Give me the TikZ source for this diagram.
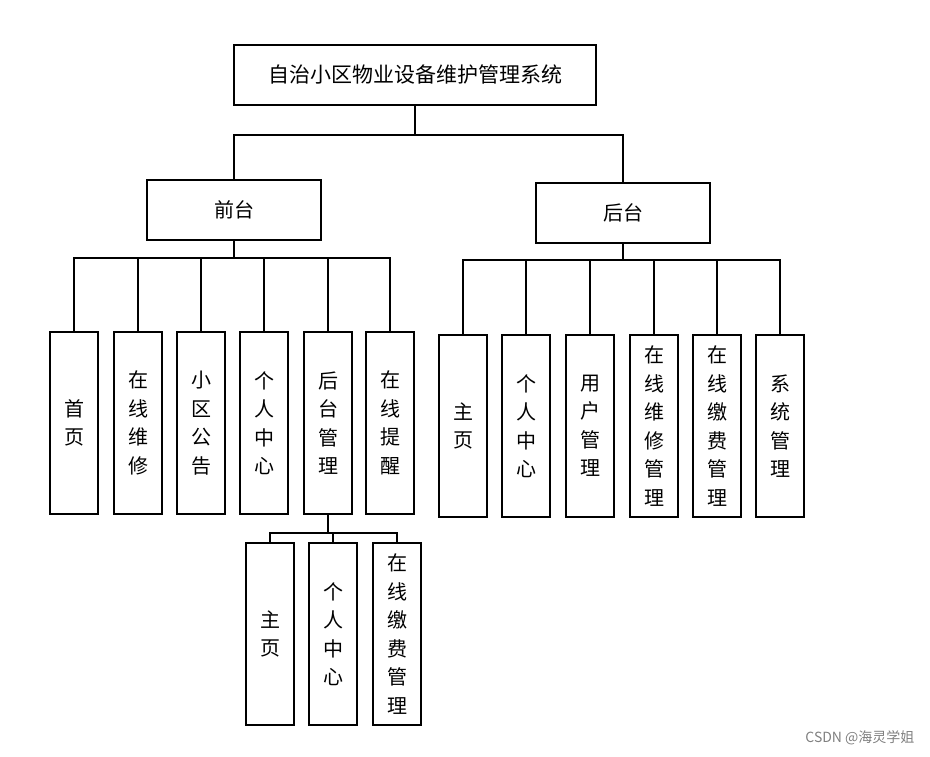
\documentclass[tikz,border=0pt]{standalone}
\usepackage{fontspec}
\newfontfamily\cjk{Noto Sans CJK SC}
\begin{document}
\begin{tikzpicture}[x=1pt,y=-1pt,
  box/.style={draw,line width=1.2pt,inner sep=0pt,font=\cjk\fontsize{20}{28.5}\selectfont,align=center},
  vbox/.style={box,minimum width=48pt,minimum height=182pt},
  conn/.style={line width=1.6pt}]
\useasboundingbox (0,0) rectangle (930,756);
\node[box,minimum width=362pt,minimum height=60pt,font=\cjk\fontsize{21}{26}\selectfont] (root) at (415,75) {自治小区物业设备维护管理系统};
\node[box,minimum width=174pt,minimum height=60pt] (qt) at (234,210) {前台};
\node[box,minimum width=174pt,minimum height=60pt] (ht) at (623,213) {后台};
\foreach \n/\x/\t in {a1/74/首\\页,a2/138/在\\线\\维\\修,a3/201/小\\区\\公\\告,a4/264/个\\人\\中\\心,a5/328/后\\台\\管\\理,a6/390/在\\线\\提\\醒}
  \node[vbox] (\n) at (\x,423) {\t};
\foreach \n/\x/\t in {b1/463/主\\页,b2/526/个\\人\\中\\心,b3/590/用\\户\\管\\理,b4/654/在\\线\\维\\修\\管\\理,b5/717/在\\线\\缴\\费\\管\\理,b6/780/系\\统\\管\\理}
  \node[vbox] (\n) at (\x,426) {\t};
\foreach \n/\x/\t in {c1/270/主\\页,c2/333/个\\人\\中\\心,c3/397/在\\线\\缴\\费\\管\\理}
  \node[vbox] (\n) at (\x,634) {\t};
\coordinate (r1) at (415,135);
\draw[conn] (root.south) -- (r1);
\draw[conn] (qt.north) |- (r1) -| (ht.north);
\coordinate (q1) at (234,258);
\draw[conn] (qt.south) -- (q1);
\draw[conn] (a1.north) |- (q1) -| (a6.north);
\foreach \n in {a2,a3,a4,a5} \draw[conn] (\n.north) -- (\n.north|-q1);
\coordinate (h1) at (623,260);
\draw[conn] (ht.south) -- (h1);
\draw[conn] (b1.north) |- (h1) -| (b6.north);
\foreach \n in {b2,b3,b4,b5} \draw[conn] (\n.north) -- (\n.north|-h1);
\coordinate (s1) at (328,533);
\draw[conn] (a5.south) -- (s1);
\draw[conn] (c1.north) |- (s1) -| (c3.north);
\draw[conn] (c2.north) -- (c2.north|-s1);
\node[font=\cjk\fontsize{14}{16}\selectfont,text=gray,anchor=east] (wm) at (918,738) {CSDN @海灵学姐};
\end{tikzpicture}
\end{document}
